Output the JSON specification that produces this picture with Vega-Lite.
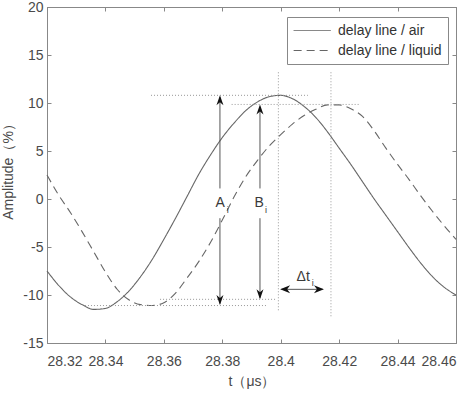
{
  "$schema": "https://vega.github.io/schema/vega-lite/v6.json",
  "width": 409,
  "height": 336,
  "autosize": {"type": "none"},
  "padding": {"left": 47, "top": 7, "right": 18, "bottom": 52},
  "background": "white",
  "config": {
    "view": {"stroke": "#888", "strokeWidth": 1},
    "font": "Liberation Sans",
    "axis": {
      "grid": false,
      "domainColor": "#888",
      "tickColor": "#888",
      "labelColor": "#4a4a4a",
      "titleColor": "#4a4a4a",
      "labelFontSize": 14,
      "titleFontSize": 14,
      "titleFontWeight": "normal",
      "labelFont": "Liberation Sans",
      "titleFont": "Liberation Sans"
    },
    "legend": {
      "orient": "none",
      "legendX": 240,
      "legendY": 10,
      "strokeColor": "#888",
      "fillColor": "white",
      "padding": 6,
      "labelFontSize": 14,
      "labelFont": "Liberation Sans",
      "labelColor": "#333",
      "symbolType": "M-1,0L4.4,0",
      "symbolSize": 188,
      "symbolStrokeWidth": 1,
      "symbolStrokeColor": "#666",
      "labelOffset": 30,
      "rowPadding": 5
    }
  },
  "datasets": {
    "curves": [
      {"t": 28.320, "amp": -7.5, "series": "delay line / air"},
      {"t": 28.324, "amp": -9.0, "series": "delay line / air"},
      {"t": 28.328, "amp": -10.2, "series": "delay line / air"},
      {"t": 28.332, "amp": -11.0, "series": "delay line / air"},
      {"t": 28.336, "amp": -11.5, "series": "delay line / air"},
      {"t": 28.340, "amp": -11.4, "series": "delay line / air"},
      {"t": 28.344, "amp": -10.7, "series": "delay line / air"},
      {"t": 28.348, "amp": -9.6, "series": "delay line / air"},
      {"t": 28.352, "amp": -8.1, "series": "delay line / air"},
      {"t": 28.356, "amp": -6.3, "series": "delay line / air"},
      {"t": 28.360, "amp": -4.2, "series": "delay line / air"},
      {"t": 28.364, "amp": -2.0, "series": "delay line / air"},
      {"t": 28.368, "amp": 0.3, "series": "delay line / air"},
      {"t": 28.372, "amp": 2.6, "series": "delay line / air"},
      {"t": 28.376, "amp": 4.6, "series": "delay line / air"},
      {"t": 28.380, "amp": 6.4, "series": "delay line / air"},
      {"t": 28.384, "amp": 7.9, "series": "delay line / air"},
      {"t": 28.388, "amp": 9.2, "series": "delay line / air"},
      {"t": 28.392, "amp": 10.1, "series": "delay line / air"},
      {"t": 28.396, "amp": 10.65, "series": "delay line / air"},
      {"t": 28.400, "amp": 10.8, "series": "delay line / air"},
      {"t": 28.404, "amp": 10.45, "series": "delay line / air"},
      {"t": 28.408, "amp": 9.65, "series": "delay line / air"},
      {"t": 28.412, "amp": 8.5, "series": "delay line / air"},
      {"t": 28.416, "amp": 7.0, "series": "delay line / air"},
      {"t": 28.420, "amp": 5.3, "series": "delay line / air"},
      {"t": 28.424, "amp": 3.6, "series": "delay line / air"},
      {"t": 28.428, "amp": 1.8, "series": "delay line / air"},
      {"t": 28.432, "amp": 0.0, "series": "delay line / air"},
      {"t": 28.436, "amp": -1.7, "series": "delay line / air"},
      {"t": 28.440, "amp": -3.4, "series": "delay line / air"},
      {"t": 28.444, "amp": -5.1, "series": "delay line / air"},
      {"t": 28.448, "amp": -6.7, "series": "delay line / air"},
      {"t": 28.452, "amp": -8.1, "series": "delay line / air"},
      {"t": 28.456, "amp": -9.2, "series": "delay line / air"},
      {"t": 28.460, "amp": -10.0, "series": "delay line / air"},
      {"t": 28.320, "amp": 2.5, "series": "delay line / liquid"},
      {"t": 28.324, "amp": 0.4, "series": "delay line / liquid"},
      {"t": 28.328, "amp": -1.4, "series": "delay line / liquid"},
      {"t": 28.332, "amp": -3.4, "series": "delay line / liquid"},
      {"t": 28.336, "amp": -5.5, "series": "delay line / liquid"},
      {"t": 28.340, "amp": -7.6, "series": "delay line / liquid"},
      {"t": 28.344, "amp": -9.4, "series": "delay line / liquid"},
      {"t": 28.348, "amp": -10.5, "series": "delay line / liquid"},
      {"t": 28.352, "amp": -11.0, "series": "delay line / liquid"},
      {"t": 28.356, "amp": -11.1, "series": "delay line / liquid"},
      {"t": 28.360, "amp": -10.8, "series": "delay line / liquid"},
      {"t": 28.364, "amp": -9.8, "series": "delay line / liquid"},
      {"t": 28.368, "amp": -8.2, "series": "delay line / liquid"},
      {"t": 28.372, "amp": -6.5, "series": "delay line / liquid"},
      {"t": 28.376, "amp": -4.5, "series": "delay line / liquid"},
      {"t": 28.380, "amp": -2.2, "series": "delay line / liquid"},
      {"t": 28.384, "amp": 0.2, "series": "delay line / liquid"},
      {"t": 28.388, "amp": 2.3, "series": "delay line / liquid"},
      {"t": 28.392, "amp": 4.0, "series": "delay line / liquid"},
      {"t": 28.396, "amp": 5.5, "series": "delay line / liquid"},
      {"t": 28.400, "amp": 6.7, "series": "delay line / liquid"},
      {"t": 28.404, "amp": 7.8, "series": "delay line / liquid"},
      {"t": 28.408, "amp": 8.7, "series": "delay line / liquid"},
      {"t": 28.412, "amp": 9.35, "series": "delay line / liquid"},
      {"t": 28.416, "amp": 9.8, "series": "delay line / liquid"},
      {"t": 28.420, "amp": 9.8, "series": "delay line / liquid"},
      {"t": 28.424, "amp": 9.4, "series": "delay line / liquid"},
      {"t": 28.428, "amp": 8.6, "series": "delay line / liquid"},
      {"t": 28.432, "amp": 7.1, "series": "delay line / liquid"},
      {"t": 28.436, "amp": 5.3, "series": "delay line / liquid"},
      {"t": 28.440, "amp": 3.6, "series": "delay line / liquid"},
      {"t": 28.444, "amp": 2.0, "series": "delay line / liquid"},
      {"t": 28.448, "amp": 0.3, "series": "delay line / liquid"},
      {"t": 28.452, "amp": -1.3, "series": "delay line / liquid"},
      {"t": 28.456, "amp": -2.8, "series": "delay line / liquid"},
      {"t": 28.460, "amp": -4.2, "series": "delay line / liquid"}
    ],
    "guides": [
      {"t1": 28.3556, "v1": 10.8, "t2": 28.4093, "v2": 10.8, "kind": "dotted"},
      {"t1": 28.3832, "v1": 9.85, "t2": 28.4271, "v2": 9.85, "kind": "dotted"},
      {"t1": 28.3992, "v1": 13.2, "t2": 28.3992, "v2": -11.6, "kind": "dotted"},
      {"t1": 28.4172, "v1": 13.2, "t2": 28.4172, "v2": -12.3, "kind": "dotted"},
      {"t1": 28.3587, "v1": -10.45, "t2": 28.3986, "v2": -10.45, "kind": "dotted"},
      {"t1": 28.3330, "v1": -11.1, "t2": 28.3950, "v2": -11.1, "kind": "dotted"},
      {"t1": 28.3792, "v1": 10.6, "t2": 28.3792, "v2": 1.1, "kind": "arrow"},
      {"t1": 28.3792, "v1": -2.0, "t2": 28.3792, "v2": -10.9, "kind": "arrow"},
      {"t1": 28.3929, "v1": 9.6, "t2": 28.3929, "v2": 1.1, "kind": "arrow"},
      {"t1": 28.3929, "v1": -2.0, "t2": 28.3929, "v2": -10.3, "kind": "arrow"},
      {"t1": 28.4003, "v1": -9.41, "t2": 28.4143, "v2": -9.41, "kind": "arrow"}
    ],
    "heads": [
      {"t": 28.3792, "v": 10.8, "dir": "up"},
      {"t": 28.3792, "v": -11.05, "dir": "down"},
      {"t": 28.3929, "v": 9.85, "dir": "up"},
      {"t": 28.3929, "v": -10.45, "dir": "down"},
      {"t": 28.3998, "v": -9.41, "dir": "left"},
      {"t": 28.4148, "v": -9.41, "dir": "right"}
    ],
    "labels": [
      {"t": 28.3793, "v": -0.86, "text": "A", "role": "main"},
      {"t": 28.3926, "v": -0.86, "text": "B", "role": "main"},
      {"t": 28.4077, "v": -8.51, "text": "Δt", "role": "main"},
      {"t": 28.3815, "v": -1.49, "text": "i", "role": "sub"},
      {"t": 28.3946, "v": -1.49, "text": "i", "role": "sub"},
      {"t": 28.4106, "v": -9.06, "text": "i", "role": "sub"}
    ]
  },
  "layer": [
    {
      "data": {"name": "curves"},
      "mark": {"type": "line", "color": "#666", "strokeWidth": 1.1, "interpolate": "monotone"},
      "encoding": {
        "x": {
          "field": "t", "type": "quantitative",
          "scale": {"domain": [28.32, 28.46], "nice": false, "zero": false},
          "axis": {
            "orient": "bottom",
            "values": [28.32, 28.34, 28.36, 28.38, 28.4, 28.42, 28.44, 28.46],
            "labelExpr": "format(datum.value, '.2~f')",
            "tickSize": -4,
            "labelPadding": 15,
            "title": "t（μs）",
            "titleY": 42,
            "titleBaseline": "alphabetic"
          }
        },
        "y": {
          "field": "amp", "type": "quantitative",
          "scale": {"domain": [-15, 20], "nice": false, "zero": false},
          "axis": {
            "orient": "left",
            "values": [-15, -10, -5, 0, 5, 10, 15, 20],
            "labelExpr": "'' + datum.value",
            "tickSize": -4,
            "labelPadding": 8,
            "title": "Amplitude（%）",
            "titleX": -39,
            "titleY": 161,
            "titleAlign": "center",
            "titleBaseline": "middle",
            "titleAngle": -90
          }
        },
        "strokeDash": {
          "field": "series", "type": "nominal",
          "scale": {"domain": ["delay line / air", "delay line / liquid"], "range": [[1, 0], [8, 5]]},
          "legend": {"title": null}
        }
      }
    },
    {
      "data": {"name": "guides"},
      "transform": [{"filter": "datum.kind === 'dotted'"}],
      "mark": {"type": "rule", "color": "#999", "strokeDash": [1, 2], "strokeWidth": 1},
      "encoding": {
        "x": {"field": "t1", "type": "quantitative", "axis": {"orient": "top", "values": [28.32, 28.34, 28.36, 28.38, 28.4, 28.42, 28.44, 28.46], "labels": false, "title": null, "tickSize": -4}},
        "x2": {"field": "t2"},
        "y": {"field": "v1", "type": "quantitative", "axis": {"orient": "right", "values": [-15, -10, -5, 0, 5, 10, 15, 20], "labels": false, "title": null, "tickSize": -4}},
        "y2": {"field": "v2"}
      }
    },
    {
      "data": {"name": "guides"},
      "transform": [{"filter": "datum.kind === 'arrow'"}],
      "mark": {"type": "rule", "color": "#555", "strokeWidth": 1},
      "encoding": {
        "x": {"field": "t1", "type": "quantitative", "axis": null},
        "x2": {"field": "t2"},
        "y": {"field": "v1", "type": "quantitative", "axis": null},
        "y2": {"field": "v2"}
      }
    },
    {
      "data": {"name": "heads"},
      "transform": [{"filter": "datum.dir === 'up'"}],
      "mark": {"type": "point", "shape": "M0,0L0.35,1L0,0.7L-0.35,1Z", "filled": true, "color": "#111", "opacity": 1, "size": 400},
      "encoding": {
        "x": {"field": "t", "type": "quantitative", "axis": null},
        "y": {"field": "v", "type": "quantitative", "axis": null}
      }
    },
    {
      "data": {"name": "heads"},
      "transform": [{"filter": "datum.dir === 'down'"}],
      "mark": {"type": "point", "shape": "M0,0L0.35,-1L0,-0.7L-0.35,-1Z", "filled": true, "color": "#111", "opacity": 1, "size": 400},
      "encoding": {
        "x": {"field": "t", "type": "quantitative", "axis": null},
        "y": {"field": "v", "type": "quantitative", "axis": null}
      }
    },
    {
      "data": {"name": "heads"},
      "transform": [{"filter": "datum.dir === 'left'"}],
      "mark": {"type": "point", "shape": "M0,0L1,0.4L0.7,0L1,-0.4Z", "filled": true, "color": "#111", "opacity": 1, "size": 400},
      "encoding": {
        "x": {"field": "t", "type": "quantitative", "axis": null},
        "y": {"field": "v", "type": "quantitative", "axis": null}
      }
    },
    {
      "data": {"name": "heads"},
      "transform": [{"filter": "datum.dir === 'right'"}],
      "mark": {"type": "point", "shape": "M0,0L-1,0.4L-0.7,0L-1,-0.4Z", "filled": true, "color": "#111", "opacity": 1, "size": 400},
      "encoding": {
        "x": {"field": "t", "type": "quantitative", "axis": null},
        "y": {"field": "v", "type": "quantitative", "axis": null}
      }
    },
    {
      "data": {"name": "labels"},
      "transform": [{"filter": "datum.role === 'main'"}],
      "mark": {"type": "text", "font": "Liberation Sans", "fontSize": 14, "fill": "#3a3a3a", "align": "center", "baseline": "alphabetic"},
      "encoding": {
        "x": {"field": "t", "type": "quantitative", "axis": null},
        "y": {"field": "v", "type": "quantitative", "axis": null},
        "text": {"field": "text"}
      }
    },
    {
      "data": {"name": "labels"},
      "transform": [{"filter": "datum.role === 'sub'"}],
      "mark": {"type": "text", "font": "Liberation Sans", "fontSize": 9, "fill": "#3a3a3a", "align": "left", "baseline": "alphabetic"},
      "encoding": {
        "x": {"field": "t", "type": "quantitative", "axis": null},
        "y": {"field": "v", "type": "quantitative", "axis": null},
        "text": {"field": "text"}
      }
    }
  ],
  "resolve": {"axis": {"x": "independent", "y": "independent"}}
}
